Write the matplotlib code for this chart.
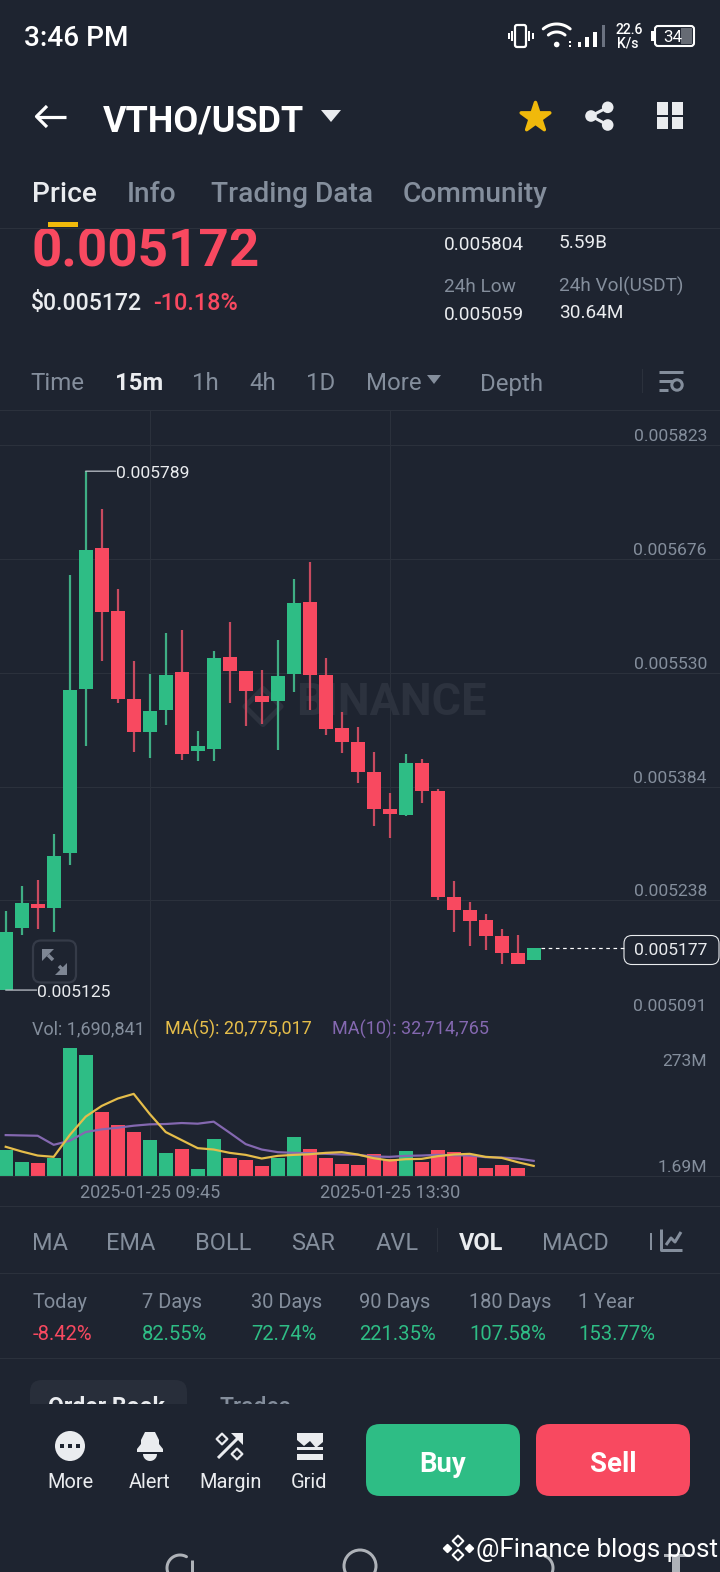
import numpy as np
import matplotlib
matplotlib.use("Agg")
import matplotlib.pyplot as plt
from matplotlib.patches import Rectangle, FancyBboxPatch, Circle, Polygon
from matplotlib.transforms import ScaledTranslation

# ---------- data ----------
opens = [5123,5203,5234,5228,5299,5509,5691,5609,5497,5454,5483,5531,5430,5432,5551,5533,5501,
         5494,5529,5621,5528,5459,5441,5403,5356,5348,5414,5379,5242,5226,5213,5192,5170,5162]
closes = [5198,5235,5228,5295,5508,5688,5608,5496,5454,5481,5528,5426,5436,5549,5533,5507,5493,
          5526,5620,5527,5458,5441,5403,5355,5349,5415,5379,5242,5226,5212,5192,5170,5157,5177]
highs = [5225,5256,5264,5323,5656,5789,5740,5638,5546,5529,5581,5585,5456,5558,5595,5533,5534,
         5572,5651,5673,5549,5480,5461,5428,5376,5426,5419,5381,5263,5236,5220,5202,5194,5177]
lows = [5123,5194,5201,5197,5283,5436,5546,5491,5429,5421,5463,5418,5417,5417,5491,5462,5465,
        5431,5506,5483,5451,5427,5389,5334,5318,5346,5363,5238,5197,5179,5175,5156,5157,5162]
volumes = [55.7,30.7,29,39,273,258,137,109,95,78,50,59,16,80,39,34,21,
           40,84,59,39,27,23,48.5,36,53,30,56,52,45,17,25,18,1.69]
ma5 = [62.8,52.8,44.2,41.4,87.7,127,149.8,165.5,175.5,132.7,94.2,77,59.9,57,49.9,45.6,37.8,
       43.5,45.6,47,49.9,51.4,46.4,38.5,33.5,36.4,37.1,42.8,46.4,47.8,41.4,39.2,30,22.1]
ma10 = [87.7,87,86.3,67,75.6,94.2,99.9,103.4,107.7,110.6,111.3,113.4,112,116.3,92.7,68.5,57,
        51.4,49.9,49.2,47.8,46.4,45.7,42.1,41.4,43.5,44.2,45.7,44.9,44.2,40.7,39.9,37.8,32.8]
price_ticks = [5823,5676,5530,5384,5238,5091]
extreme_labels = ["0.005789","0.005125"]
time_idx = [9,24]
time_labels = ["2025-01-25 09:45","2025-01-25 13:30"]
vol_ticks = [1.69,273]
vol_tick_labels = ["1.69M","273M"]
periods = ["Today","7 Days","30 Days","90 Days","180 Days","1 Year"]
period_values = ["-8.42%","82.55%","72.74%","221.35%","107.58%","153.77%"]

BG='#1e2430'; GREEN='#2ebd85'; RED='#f84960'; GREY='#848e9c'; LIGHT='#eaecef'; GRID='#2b313c'
YEL='#e5bd4a'; PUR='#8468b0'; GOLD='#f0b90b'
plt.rcParams['font.family']=['Roboto','DejaVu Sans']

W,H=720,1572
fig=plt.figure(figsize=(W/100,H/100),dpi=100,facecolor=BG)
def axpx(x0,y0,x1,y1,**k):
    return fig.add_axes([x0/W,1-y1/H,(x1-x0)/W,(y1-y0)/H],**k)
PX=0.72
ui=axpx(0,0,W,H); ui.set_xlim(0,W); ui.set_ylim(H,0); ui.axis('off'); ui.set_zorder(0)

def T(x,y,s,px,c=LIGHT,ha='left',w='normal',z=6,va='center'):
    return ui.text(x,y,s,fontsize=px*PX,color=c,ha=ha,va=va,fontweight=w,zorder=z)
def R(x0,y0,x1,y1,c,z=6,**k):
    ui.add_patch(Rectangle((x0,y0),x1-x0,y1-y0,fc=c,ec='none',zorder=z,**k))
def RR(x0,y0,x1,y1,r,fc,ec='none',lw=0,z=6):
    ui.add_patch(FancyBboxPatch((x0,y0),x1-x0,y1-y0,boxstyle=f"round,pad=0,rounding_size={r}",fc=fc,ec=ec,lw=lw,zorder=z))
def L(xs,ys,c=LIGHT,lw=2,z=6,**k):
    ui.plot(xs,ys,color=c,lw=lw*PX,zorder=z,solid_capstyle=k.pop('cap','butt'),**k)
def arc(cx,cy,r,t0,t1,c=LIGHT,lw=2,z=6):
    t=np.radians(np.linspace(t0,t1,40))
    L(cx+r*np.cos(t),cy-r*np.sin(t),c,lw,z,cap='round')
def down(px):
    return ScaledTranslation(0,-px/100,fig.dpi_scale_trans)

# ---------- status bar ----------
T(24,39,"3:46 PM",28,'white',w='medium')
RR(515,25,526,47,2,'none',ec='white',lw=1.6)
for x0,x1,y0,y1 in [(511,513,31,41),(508,509.5,33,39),(528,530,31,41),(532,533.5,33,39)]:
    R(x0,y0,x1,y1,'white')
for r in (13,21):
    arc(556.7,45,r,50,130,'white',3)
ui.add_patch(Circle((556.7,44.5),2.8,fc='white',ec='none',zorder=6))
R(569,41,571,43,'white'); R(569,45,571,47,'white')
for x0,x1,y0,c in [(577.5,581,42,'white'),(585,589,37,'white'),(593,597,32,'white'),(601.5,605,25,'#6b7280')]:
    R(x0,y0,x1,47,c)
T(629,30,"22.6",14,'white',ha='center',w='medium'); T(628,44,"K/s",14,'white',ha='center',w='medium')
R(681,28,692,44,'#666b74')
RR(655,26,694,46,3,'none',ec='white',lw=1.5)
R(651,31,654,41,'white')
T(673,37,"34",17,'white',ha='center')

# ---------- header ----------
L([37,66],[116.5,116.5],'white',3.2)
L([47,36.5,47],[106,116.5,127],'white',3.2)
T(103,121,"VTHO/USDT",36,'white',w='bold')
ui.add_patch(Polygon([(321,110),(341,110),(331,122)],fc=LIGHT,ec='none',zorder=6))
ui.scatter([534.5],[117],marker='*',s=470,color=GOLD,edgecolors=GOLD,zorder=6,linewidths=2.5,joinstyle='round')
L([607.7,591,607.7],[107.3,116,125],LIGHT,3)
for cx,cy in [(607.7,107.3),(607.7,125),(591,116)]:
    ui.add_patch(Circle((cx,cy),5.8,fc=LIGHT,ec='none',zorder=6))
for x0,x1 in [(656.7,668.3),(671.7,683.3)]:
    for y0,y1 in [(102.3,115),(117.3,129.3)]:
        R(x0,y0,x1,y1,LIGHT)

# big price, cut by the tab strip
T(31,252,"0.005172",53,RED,w='bold',z=3)
R(0,0,W,229,BG,z=5)
for x,s,c,w in [(32,"Price",LIGHT,'medium'),(127,"Info",GREY,'medium'),(211,"Trading Data",GREY,'medium'),(403,"Community",GREY,'medium')]:
    T(x,194,s,28.1,c,w=w)
R(48,221.5,78,226.5,GOLD)
R(0,228,W,229,GRID)
T(31,303,"$0.005172",23,LIGHT,w='medium')
T(153,303,"-10.18%",23.5,RED,w='medium')
T(444,244.5,"0.005804",19,LIGHT); T(559,242.5,"5.59B",19,LIGHT)
T(444,287.5,"24h Low",19,GREY); T(559,286.5,"24h Vol(USDT)",19,GREY)
T(444,315.5,"0.005059",19,LIGHT); T(559,313.5,"30.64M",19,LIGHT)

# ---------- interval row ----------
for x,s,c,w in [(30,"Time",GREY,'normal'),(115,"15m",LIGHT,'bold'),(192,"1h",GREY,'normal'),(249,"4h",GREY,'normal'),
              (306,"1D",GREY,'normal'),(366,"More",GREY,'normal'),(480,"Depth",GREY,'normal')]:
    T(x,384,s,24,c,w=w)
ui.add_patch(Polygon([(427,375),(441,375),(434,384)],fc=GREY,ec='none',zorder=6))
R(642,369,643,393,GRID)
L([659,683],[372,372],GREY,3); L([659,675],[381,381],GREY,3); L([659,668],[390,390],GREY,3)
ui.add_patch(Circle((677,385),5.2,fc=BG,ec=GREY,lw=3*PX,zorder=7))
R(0,410,W,411,GRID)

# ---------- candles ----------
x_to_i=lambda px:(px-5.7)/16
idx=np.arange(len(opens))
o=np.array(opens)/1e6; c=np.array(closes)/1e6; hi=np.array(highs)/1e6; lo=np.array(lows)/1e6
cols=[GREEN if b>=a else RED for a,b in zip(opens,closes)]
wick=['#3fae84' if k==GREEN else '#c84a5f' for k in cols]

PY0,PY1=444.7,1015.0
per_px=(price_ticks[0]-price_ticks[-1])/1e6/(PY1-PY0)
ax=axpx(0,411,W,PY1)
ax.set_zorder(1); ax.patch.set_alpha(0)
ax.set_xlim(x_to_i(0),x_to_i(W))
ax.set_ylim(price_ticks[-1]/1e6,price_ticks[0]/1e6+(PY0-411)*per_px)
for s in ax.spines.values(): s.set_visible(False)
ax.set_axisbelow(True)
ax.set_xticks(time_idx); ax.tick_params(axis='x',length=0,labelbottom=False)
ax.yaxis.tick_right()
ax.set_yticks([t/1e6 for t in price_ticks],[f"{t/1e6:.6f}" for t in price_ticks])
ax.tick_params(axis='y',length=0,pad=-13*PX,labelsize=17.5*PX,labelcolor=GREY)
for l in ax.get_yticklabels():
    l.set_ha('right'); l.set_va('bottom')
    l.set_transform(l.get_transform()+down(-1))
ax.grid(True,color=GRID,lw=1.1*PX)
ax.text(x_to_i(391),5491/1e6,"BINANCE",fontsize=45*PX,fontweight='bold',color='#2c323e',ha='center',va='center',zorder=1)
ax.scatter([x_to_i(263)],[5487/1e6],marker='D',s=340,fc='none',ec='#2c323e',lw=5*PX,zorder=1)
ax.vlines(idx,lo,hi,colors=wick,lw=2.2*PX,zorder=2)
ax.bar(idx,np.abs(c-o),bottom=np.minimum(o,c),width=14/16,color=cols,zorder=3,linewidth=0)
imax=int(np.argmax(hi)); imin=int(np.argmin(lo))
for i,v,dx,s in [(imax,hi[imax],30,extreme_labels[0]),(imin,lo[imin],31,extreme_labels[1])]:
    ax.annotate("",xy=(i,v),xytext=(dx*PX,0),textcoords='offset points',
                arrowprops=dict(arrowstyle='-',color='#b9bec6',lw=1.3*PX,shrinkA=0,shrinkB=0),zorder=5)
    ax.annotate(s,xy=(i,v),xytext=(dx*PX,-2*PX),textcoords='offset points',va='center',color=LIGHT,
                fontsize=17.5*PX,zorder=5)
ax.plot([idx[-1]+0.45,x_to_i(624)],[c[-1],c[-1]],color='white',lw=1.2*PX,dashes=(3,3),zorder=4)
RR(624,935.5,719,964.5,8,BG,ec=LIGHT,lw=1.1*PX,z=6)
ax.annotate(f"{c[-1]:.6f}",xy=(x_to_i(670.5),c[-1]),xytext=(0,-3*PX),textcoords='offset points',ha='center',va='center',
            color=LIGHT,fontsize=17.5*PX,zorder=5)

# expand button
RR(33,940.5,76,982.5,8,'none',ec='#353b48',lw=1.6,z=6)
L([48,53],[955,960],'#7e8694',3.5); L([59,64],[966,971],'#7e8694',3.5)
ui.add_patch(Polygon([(42,949),(54,949),(42,961)],fc='#7e8694',ec='none',zorder=6))
ui.add_patch(Polygon([(67,975),(55,975),(67,963)],fc='#7e8694',ec='none',zorder=6))

# ---------- volume ----------
VY0,VY1=1015.0,1175.5
vp=axpx(0,VY0,W,VY1); vp.set_zorder(1); vp.patch.set_alpha(0)
vp.set_xlim(ax.get_xlim()); vp.set_ylim(2,(VY1-VY0)*273/127.6)
for k,s in vp.spines.items():
    s.set_visible(k=='bottom'); s.set_color(GRID)
vp.set_axisbelow(True)
vp.bar(idx,volumes,width=14/16,color=cols,linewidth=0,zorder=2)
vp.plot(idx,ma5,color=YEL,lw=2.2*PX,zorder=4)
vp.plot(idx,ma10,color=PUR,lw=2.2*PX,zorder=3)
vp.set_xticks(time_idx,time_labels)
vp.tick_params(axis='x',length=0,pad=8*PX,labelsize=18*PX,labelcolor=GREY)
vp.xaxis.grid(True,color=GRID,lw=1.1*PX)
vp.yaxis.tick_right()
vp.set_yticks(vol_ticks,vol_tick_labels)
vp.tick_params(axis='y',length=0,pad=-13*PX,labelsize=17.5*PX,labelcolor=GREY)
for l,va,d in zip(vp.get_yticklabels(),['bottom','top'],[0,6]):
    l.set_ha('right'); l.set_va(va)
    l.set_transform(l.get_transform()+down(d))
T(32,1029,"Vol: 1,690,841",18,GREY)
T(165,1029,"MA(5): 20,775,017",18,YEL)
T(332,1029,"MA(10): 32,714,765",18,PUR)

# ---------- indicators ----------
R(0,1206,W,1207,GRID)
for x,s,col,w in [(32,"MA",GREY,'normal'),(106,"EMA",GREY,'normal'),(195,"BOLL",GREY,'normal'),(291,"SAR",GREY,'normal'),
                  (376,"AVL",GREY,'normal'),(459,"VOL",LIGHT,'bold'),(542,"MACD",GREY,'normal'),(648,"R",GREY,'normal')]:
    T(x,1244,s,23.5,col,w=w)
R(652,1225,660,1258,BG,z=7)
R(437,1228,438,1252,GRID)
L([661,661,682],[1229,1250,1250],GREY,3)
L([666,671,675,681],[1245,1238,1242,1232],GREY,3)
R(0,1273,W,1274,GRID)
xs_p=[33,142,251,359,469,578]
for x,p,v in zip(xs_p,periods,period_values):
    T(x,1303,p,20,GREY)
    T(x,1334,v,20.3,RED if v.startswith('-') else GREEN)
R(0,1358,W,1359,GRID)

# ---------- tabs hidden by the bottom bar ----------
RR(30,1380,187,1440,12,'#282e3a',z=2)
T(48,1408,"Order Book",23,LIGHT,w='bold',z=3)
T(220,1408,"Trades",23,GREY,w='medium',z=3)
R(0,1404,W,H,BG,z=5)

# ---------- bottom bar ----------
ui.add_patch(Circle((70,1446),15,fc=LIGHT,ec='none',zorder=6))
for x in (62,70,78):
    R(x-1.6,1444.4,x+1.6,1447.6,BG,z=7)
ui.add_patch(Polygon([(137,1449),(141,1444),(141,1440),(145,1432),(155,1432),(159,1440),(159,1444),(163,1449),(163,1452),(137,1452)],fc=LIGHT,ec='none',zorder=6))
t=np.linspace(0,np.pi,20)
ui.add_patch(Polygon(np.c_[150+7*np.cos(t),1454+7*np.sin(t)],fc=LIGHT,ec='none',zorder=6))
L([218,242],[1458,1434],LIGHT,3)
ui.add_patch(Polygon([(231,1433),(243,1433),(243,1445)],fc=LIGHT,ec='none',zorder=6))
ui.scatter([222,237],[1439,1454],marker='D',s=30,fc='none',ec=LIGHT,lw=2.2*PX,zorder=6)
ui.add_patch(Polygon([(297,1433),(323,1433),(323,1442),(316,1448),(310,1441),(304,1446),(297,1440)],fc=LIGHT,ec='none',zorder=6))
R(297,1447,323,1450,LIGHT); R(297,1454,323,1460,LIGHT)
for x,s in [(70,"More"),(150,"Alert"),(231,"Margin"),(309,"Grid")]:
    T(x,1483,s,20,LIGHT,ha='center')
RR(366,1424,520,1496,14,GREEN); T(443,1464,"Buy",27.5,'white',ha='center',w='bold')
RR(536,1424,690,1496,14,RED); T(613,1464,"Sell",27.5,'white',ha='center',w='bold')

# ---------- nav and watermark ----------
arc(180,1568,13,60,300,'#aeb2b8',3)
L([192,192],[1560,1572],'#aeb2b8',3)
ui.add_patch(Circle((360,1566),16,fc='none',ec='#aeb2b8',lw=3*PX,zorder=6))
arc(540,1568,13,-70,70,'#aeb2b8',3)
R(672,1557,680,1572,'#aeb2b8'); R(664,1554,690,1557,'#aeb2b8')
for dx,dy,s in [(0,-7,30),(-11,0,14),(11,0,14),(0,7,30)]:
    ui.scatter([458+dx],[1548+dy],marker='D',s=s,fc='white' if s==14 else 'none',ec='white',lw=2*PX,zorder=8)
T(476,1550,"@Finance blogs post",26,'white',z=8)

fig.savefig('out.png',dpi=100,facecolor=BG)
